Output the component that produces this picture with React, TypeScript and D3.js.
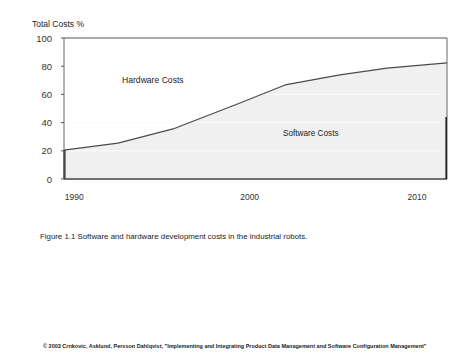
import React from "react";
import * as d3 from "d3";

const years = [1989.4, 1992.55, 1995.76, 1999.67, 2002.3, 2005.5, 2008.25, 2011.75];
const softwareShare = [20.5, 25.5, 35.5, 53.9, 66.7, 73.8, 78.7, 82.3];
const yTicks = [0, 20, 40, 60, 80, 100];
const gridValues = [20, 40, 60];
const xTickYears = [1990, 2000, 2010];
const xTickLabels = ["1990", "2000", "2010"];
const titleText = "Total Costs %";
const hardwareLabel = "Hardware Costs";
const softwareLabel = "Software Costs";
const caption = "Figure 1.1 Software and hardware development costs in the industrial robots.";
const footer =
  "\u00a9 2003 Crnkovic, Asklund, Persson Dahlqvist, \"Implementing and Integrating Product Data Management and Software Configuration Management\"";

const W = 474;
const H = 355;
const left = 64;
const right = 447;
const top = 38;
const bottom = 179;

export default function App() {
  const x = d3.scaleLinear().domain([years[0], years[years.length - 1]]).range([left, right]);
  const y = d3.scaleLinear().domain([0, 100]).range([bottom, top]);
  const pts: [number, number][] = years.map((yr, i) => [yr, softwareShare[i]]);
  const area = d3
    .area<[number, number]>()
    .x((d) => x(d[0]))
    .y0(y(0))
    .y1((d) => y(d[1]))
    .curve(d3.curveLinear);
  const line = d3
    .line<[number, number]>()
    .x((d) => x(d[0]))
    .y((d) => y(d[1]))
    .curve(d3.curveLinear);
  const font = "'Liberation Sans', Arial, sans-serif";
  return (
    <svg
      width={W}
      height={H}
      style={{ position: "absolute", left: 0, top: 0, background: "#fff" }}
      fontFamily={font}
    >
      <rect x={0} y={0} width={W} height={H} fill="#fff" />
      <path d={area(pts) || ""} fill="#f0f0f0" />
      {gridValues.map((v) => (
        <line key={v} x1={left + 1} x2={440} y1={y(v)} y2={y(v)} stroke="#fbfbfb" strokeWidth={1} />
      ))}
      <path d={line(pts) || ""} fill="none" stroke="#4a4a4a" strokeWidth={1.2} strokeLinejoin="round" />
      <line x1={left} x2={right} y1={top} y2={top} stroke="#555" strokeWidth={1} />
      <line x1={right} x2={right} y1={top} y2={bottom} stroke="#666" strokeWidth={1} />
      <line x1={left} x2={left} y1={top} y2={bottom} stroke="#666" strokeWidth={1} />
      <line x1={left} x2={right} y1={bottom} y2={bottom} stroke="#444" strokeWidth={1.6} />
      <line x1={left + 0.5} x2={left + 0.5} y1={y(softwareShare[0])} y2={bottom} stroke="#444" strokeWidth={2.2} />
      <line x1={right - 0.8} x2={right - 0.8} y1={y(44)} y2={bottom} stroke="#222" strokeWidth={1.6} />
      {yTicks.map((t) => (
        <g key={t}>
          <line x1={left - 3} x2={left} y1={y(t)} y2={y(t)} stroke="#555" strokeWidth={1} />
          <text x={52} y={y(t) + 3.5} textAnchor="end" fontSize={9.5} fill="#333">
            {t}
          </text>
        </g>
      ))}
      {xTickYears.map((yr, i) => (
        <text key={yr} x={x(yr) + (i === 1 ? 4 : 0)} y={200} textAnchor="middle" fontSize={8.5} fill="#333">
          {xTickLabels[i]}
        </text>
      ))}
      <text x={32} y={27} fontSize={8.5} fill="#222">
        {titleText}
      </text>
      <text x={122} y={83} fontSize={8.6} fill="#222">
        {hardwareLabel}
      </text>
      <text x={283} y={136} fontSize={8.2} fill="#222">
        {softwareLabel}
      </text>
      <text x={40} y={239} fontSize={7.85} fill="#222">
        {caption}
      </text>
      <text x={43} y={348} fontSize={5.5} fontWeight="bold" fill="#222">
        {footer}
      </text>
    </svg>
  );
}
